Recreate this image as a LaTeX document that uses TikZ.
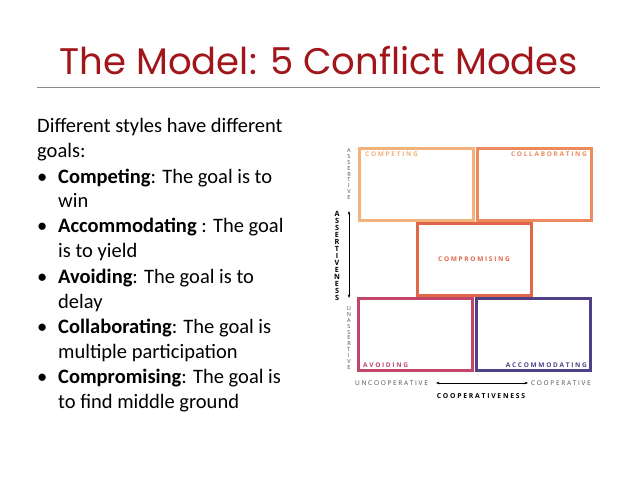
\documentclass[tikz,border=0pt]{standalone}
\usepackage{fontspec}
\setmainfont{Carlito}
\newfontfamily\titlefont{Poppins}
\newfontfamily\dgfont{Open Sans}
\usetikzlibrary{arrows.meta}
\definecolor{titlered}{HTML}{A0161B}
\definecolor{cComp}{HTML}{F2B27A}
\definecolor{cColl}{HTML}{EC8A5E}
\definecolor{cCpr}{HTML}{E2664A}
\definecolor{cAvo}{HTML}{C2456A}
\definecolor{cAcc}{HTML}{4E3F86}
\newcommand{\bul}{\makebox[21pt][l]{\textbullet}}
\begin{document}
\begin{tikzpicture}[x=1pt,y=-1pt,
  body/.style={anchor=base west,inner sep=0pt,font=\fontsize{20.5}{20.5}\selectfont},
  modebox/.style={draw,line width=3pt,minimum width=114pt,minimum height=72pt,inner sep=0pt},
  lab/.style={font=\dgfont\fontsize{6.5}{6.5}\selectfont,inner sep=0pt},
  vlab/.style={inner sep=0pt,text=black!70,align=center}]
\useasboundingbox[fill=white] (0,0) rectangle (638,478);
\node[text=titlered,font=\titlefont\fontsize{37}{37}\selectfont,anchor=base] (title) at (319,75) {The Model: 5 Conflict Modes};
\draw[black!45,line width=1pt] (37,88) -- (600,88);
\node[body] (t1) at (37,133) {Different styles have different};
\node[body] (t2) at (37,158) {goals:};
\node[body] (t3) at (37,184) {\bul\textbf{Competing}: The goal is to};
\node[body] (t4) at (58,208) {win};
\node[body] (t5) at (37,233) {\bul\textbf{Accommodating} : The goal};
\node[body] (t6) at (58,258) {is to yield};
\node[body] (t7) at (37,284) {\bul\textbf{Avoiding}: The goal is to};
\node[body] (t8) at (58,309) {delay};
\node[body] (t9) at (37,334) {\bul\textbf{Collaborating}: The goal is};
\node[body] (t10) at (58,359) {multiple participation};
\node[body] (t11) at (37,384) {\bul\textbf{Compromising}: The goal is};
\node[body] (t12) at (58,409) {to find middle ground};
% boxes
\node[modebox,draw=cComp] (comp) at (416.5,184.5) {};
\node[modebox,draw=cColl] (coll) at (534,184.5) {};
\node[modebox,draw=cCpr] (cpr) at (474,259.5) {};
\node[modebox,draw=cAvo] (avo) at (415.5,334.5) {};
\node[modebox,draw=cAcc] (acc) at (533.5,334.5) {};
\node[lab,text=cComp,anchor=north west] (lcomp) at (365,152) {\textbf{C O M P E T I N G}};
\node[lab,text=cColl,anchor=north east] (lcoll) at (587,152) {\textbf{C O L L A B O R A T I N G}};
\node[lab,text=cCpr] (lcpr) at (cpr.center) {\textbf{C O M P R O M I S I N G}};
\node[lab,text=cAvo,anchor=south west] (lavo) at (363,368) {\textbf{A V O I D I N G}};
\node[lab,text=cAcc,anchor=south east] (lacc) at (587,368) {\textbf{A C C O M M O D A T I N G}};
% axes labels
\node[vlab,font=\dgfont\fontsize{5.6}{5.8}\selectfont] (assertive) at (349,174) {A\\S\\S\\E\\R\\T\\I\\V\\E};
\node[vlab,font=\dgfont\fontsize{5.6}{5.9}\selectfont] (unassertive) at (349,338) {U\\N\\A\\S\\S\\E\\R\\T\\I\\V\\E};
\node[vlab,text=black,font=\dgfont\bfseries\fontsize{7.2}{7}\selectfont] (assertiveness) at (337,256) {A\\S\\S\\E\\R\\T\\I\\V\\E\\N\\E\\S\\S};
\coordinate (atop) at (349,211);
\coordinate (abot) at (349,298);
\draw[{Stealth[length=3.5pt]}-{Stealth[length=3.5pt]},line width=0.6pt] (atop) -- (abot);
\node[lab,text=black!70,anchor=west] (uncoop) at (355,383) {U N C O O P E R A T I V E};
\node[lab,text=black!70,anchor=east] (coop) at (591,383) {C O O P E R A T I V E};
\coordinate (cl) at (436,383);
\coordinate (cr) at (528,383);
\draw[{Stealth[length=3.5pt]}-{Stealth[length=3.5pt]},line width=0.6pt] (cl) -- (cr);
\node[lab,font=\dgfont\bfseries\fontsize{6.8}{6.8}\selectfont] (coopness) at (481,396) {C O O P E R A T I V E N E S S};
\end{tikzpicture}
\end{document}
